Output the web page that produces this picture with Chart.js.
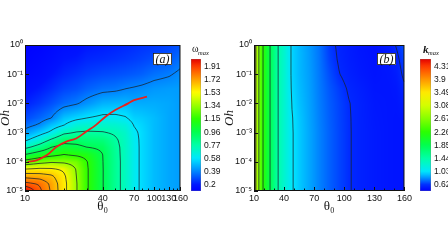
<!DOCTYPE html>
<html lang="en">
<head>
<meta charset="UTF-8">
<title>omega_max / k_max maps</title>
<script src="https://cdn.jsdelivr.net/npm/chart.js"></script>
<style>
  * { margin: 0; padding: 0; box-sizing: border-box; }
  body { background: #fff; width: 448px; height: 252px; overflow: hidden; position: relative; }
  canvas { position: absolute; }
</style>
</head>
<body>
<canvas id="mapA" width="190" height="225" style="left:0px;top:0px"></canvas>
<canvas id="barA" width="40" height="160" style="left:186px;top:40px"></canvas>
<canvas id="mapB" width="190" height="225" style="left:224px;top:0px"></canvas>
<canvas id="barB" width="32" height="160" style="left:416px;top:40px"></canvas>
<script>
// ---------- (a) omega_max on theta0 (log) x Oh (log) ----------
const thetaA = [10, 13, 16, 20, 25, 30, 40, 50, 60, 70, 80, 100, 130, 160];
const ohA = [1e-5, 1.78e-5, 3.16e-5, 5.62e-5, 1e-4, 1.78e-4, 3.16e-4, 5.62e-4,
             1e-3, 1.78e-3, 3.16e-3, 1e-2, 3.16e-2, 1e-1, 3.16e-1, 1];
// one row per Oh value (bottom to top), one column per theta0
const omegaA = [
  [2.55, 2.15, 1.88, 1.58, 1.35, 1.17, 0.965, 0.82, 0.72, 0.62, 0.56, 0.5, 0.46, 0.44],
  [2.16, 2.07, 1.86, 1.58, 1.35, 1.17, 0.965, 0.82, 0.72, 0.62, 0.56, 0.5, 0.46, 0.44],
  [1.85, 1.82, 1.76, 1.56, 1.34, 1.17, 0.965, 0.82, 0.72, 0.62, 0.56, 0.5, 0.46, 0.44],
  [1.53, 1.56, 1.55, 1.5, 1.33, 1.17, 0.965, 0.82, 0.72, 0.62, 0.56, 0.5, 0.46, 0.44],
  [1.21, 1.28, 1.32, 1.31, 1.28, 1.16, 0.963, 0.82, 0.72, 0.62, 0.56, 0.5, 0.46, 0.44],
  [0.96, 1.05, 1.1, 1.15, 1.12, 1.1, 0.96, 0.815, 0.72, 0.62, 0.56, 0.5, 0.46, 0.44],
  [0.73, 0.84, 0.96, 1.02, 1.0, 0.96, 0.93, 0.81, 0.72, 0.62, 0.56, 0.5, 0.46, 0.44],
  [0.555, 0.67, 0.79, 0.9, 0.9, 0.88, 0.87, 0.79, 0.715, 0.615, 0.56, 0.5, 0.46, 0.44],
  [0.43, 0.53, 0.61, 0.74, 0.78, 0.79, 0.78, 0.75, 0.7, 0.6, 0.56, 0.5, 0.46, 0.44],
  [0.35, 0.41, 0.51, 0.58, 0.67, 0.69, 0.7, 0.69, 0.66, 0.575, 0.55, 0.5, 0.46, 0.44],
  [0.29, 0.34, 0.39, 0.51, 0.55, 0.58, 0.61, 0.61, 0.59, 0.54, 0.53, 0.5, 0.46, 0.44],
  [0.22, 0.26, 0.3, 0.35, 0.38, 0.42, 0.48, 0.49, 0.49, 0.47, 0.47, 0.47, 0.46, 0.44],
  [0.18, 0.21, 0.24, 0.28, 0.3, 0.33, 0.36, 0.37, 0.39, 0.4, 0.41, 0.43, 0.44, 0.44],
  [0.15, 0.17, 0.2, 0.23, 0.25, 0.27, 0.29, 0.3, 0.31, 0.32, 0.33, 0.36, 0.38, 0.41],
  [0.13, 0.15, 0.17, 0.2, 0.21, 0.23, 0.24, 0.25, 0.26, 0.27, 0.28, 0.3, 0.32, 0.36],
  [0.12, 0.13, 0.15, 0.17, 0.18, 0.2, 0.21, 0.22, 0.23, 0.24, 0.25, 0.26, 0.28, 0.31]
];
const levelsA = [0.39, 0.58, 0.77, 0.96, 1.15, 1.34, 1.53, 1.72, 1.91, 2.10, 2.29, 2.48];
const cbTicksA = [0.2, 0.39, 0.58, 0.77, 0.96, 1.15, 1.34, 1.53, 1.72, 1.91];
const cbRangeA = [0.1145, 2.0145];
// red curve
const redTheta = [10.5, 12.4, 14.8, 17.6, 20.9, 24.9, 29.7, 35.3, 42, 50, 63, 70, 88];
const redOh = [1.0e-4, 1.15e-4, 1.7e-4, 3.3e-4, 4.9e-4, 6.3e-4, 1.07e-3, 1.8e-3, 3.5e-3, 5.9e-3, 1.0e-2, 1.3e-2, 1.7e-2];

// ---------- (b) k_max on theta0 (linear) x Oh (log) ----------
const thetaB = [10, 10.5, 11, 12, 13.5, 15, 17, 19, 22, 26, 30, 34, 40, 48, 55, 65, 75, 85, 95, 105, 115, 130, 145, 152, 160];
const ohB = [1e-5, 1e-3, 3.16e-3, 1e-2, 3.16e-2, 1e-1, 3.16e-1, 1];
const kB = [
  [4.5, 3.95, 3.55, 3.05, 2.83, 2.65, 2.45, 2.26, 2.07, 1.85, 1.64, 1.44, 1.27, 1.04, 0.97, 0.89, 0.81, 0.74, 0.68, 0.627, 0.59, 0.55, 0.53, 0.525, 0.52],
  [4.5, 3.95, 3.55, 3.05, 2.83, 2.65, 2.45, 2.26, 2.07, 1.85, 1.64, 1.44, 1.27, 1.04, 0.97, 0.89, 0.81, 0.74, 0.68, 0.627, 0.59, 0.55, 0.53, 0.525, 0.52],
  [4.5, 3.95, 3.55, 3.05, 2.83, 2.65, 2.45, 2.26, 2.07, 1.85, 1.64, 1.44, 1.27, 1.035, 0.965, 0.885, 0.805, 0.735, 0.678, 0.626, 0.589, 0.545, 0.53, 0.525, 0.53],
  [4.5, 3.95, 3.55, 3.05, 2.83, 2.65, 2.45, 2.26, 2.07, 1.85, 1.64, 1.44, 1.27, 1.02, 0.95, 0.88, 0.8, 0.73, 0.675, 0.623, 0.588, 0.54, 0.53, 0.53, 0.56],
  [4.5, 3.95, 3.55, 3.05, 2.83, 2.65, 2.45, 2.26, 2.07, 1.85, 1.64, 1.44, 1.27, 1.0, 0.94, 0.875, 0.795, 0.72, 0.66, 0.605, 0.575, 0.53, 0.53, 0.54, 0.6],
  [4.5, 3.95, 3.55, 3.05, 2.83, 2.65, 2.45, 2.26, 2.07, 1.85, 1.64, 1.44, 1.27, 0.99, 0.93, 0.87, 0.79, 0.7, 0.623, 0.58, 0.55, 0.52, 0.535, 0.56, 0.65],
  [4.5, 3.95, 3.55, 3.05, 2.83, 2.65, 2.45, 2.26, 2.07, 1.85, 1.64, 1.44, 1.27, 0.99, 0.93, 0.865, 0.785, 0.675, 0.605, 0.565, 0.54, 0.515, 0.545, 0.59, 0.68],
  [4.5, 3.95, 3.55, 3.05, 2.83, 2.65, 2.45, 2.26, 2.07, 1.85, 1.64, 1.44, 1.27, 0.99, 0.93, 0.86, 0.78, 0.66, 0.595, 0.56, 0.53, 0.51, 0.56, 0.63, 0.7]
];
const levelsB = [0.62, 1.03, 1.44, 1.85, 2.26, 2.67, 3.08, 3.49, 3.9, 4.31];
const cbTicksB = [0.62, 1.03, 1.44, 1.85, 2.26, 2.67, 3.08, 3.49, 3.9, 4.31];
const cbRangeB = [0.435, 4.535];

// ---------- axes ----------
const ohTicks = [1e-5, 1e-4, 1e-3, 1e-2, 1e-1, 1];
const ohTickLabels = ['10⁻⁵', '10⁻⁴', '10⁻³', '10⁻²', '10⁻¹', '10⁰'];
const thetaTicks = [10, 40, 70, 100, 130, 160];
const thetaMinor = [20, 30, 50, 60, 80, 90, 110, 120, 140, 150];

// colour ramps (value -> rgb)
const barCmapA = [[0.11, [0, 0, 255]], [0.2, [0, 20, 255]], [0.39, [0, 130, 255]], [0.58, [0, 230, 255]],
  [0.77, [0, 255, 170]], [0.96, [0, 255, 80]], [1.15, [40, 255, 0]], [1.34, [150, 255, 0]],
  [1.53, [255, 255, 0]], [1.72, [255, 160, 0]], [1.91, [255, 60, 0]], [2.02, [225, 0, 0]]];
const fieldCmapA = [[0.11, [0, 0, 255]], [0.2, [0, 20, 255]], [0.39, [0, 130, 255]], [0.58, [0, 230, 255]],
  [0.77, [0, 255, 170]], [0.96, [0, 255, 80]], [1.15, [40, 255, 0]], [1.34, [150, 255, 0]],
  [1.53, [255, 245, 0]], [1.72, [255, 200, 0]], [1.91, [255, 150, 0]], [2.1, [255, 105, 0]],
  [2.29, [255, 60, 0]], [2.5, [235, 20, 0]]];
const cmapB = [[0.43, [0, 0, 255]], [0.62, [0, 40, 255]], [0.85, [0, 150, 255]], [1.03, [0, 230, 255]],
  [1.44, [0, 255, 170]], [1.85, [0, 255, 80]], [2.26, [40, 255, 0]], [2.67, [130, 255, 0]],
  [3.08, [210, 255, 0]], [3.49, [255, 235, 0]], [3.9, [255, 150, 0]], [4.31, [255, 60, 0]], [4.54, [225, 0, 0]]];

const SANS = '"Liberation Sans", Arial, sans-serif';
const SERIF = '"Liberation Serif", "Times New Roman", serif';

function colorAt(cmap, v) {
  if (v <= cmap[0][0]) return cmap[0][1];
  for (let i = 1; i < cmap.length; i++) {
    if (v <= cmap[i][0]) {
      const [v0, c0] = cmap[i - 1], [v1, c1] = cmap[i];
      const t = (v - v0) / (v1 - v0);
      return c0.map((c, k) => c + (c1[k] - c) * t);
    }
  }
  return cmap[cmap.length - 1][1];
}

function locate(arr, v) {
  let i = 0;
  while (i < arr.length - 2 && v > arr[i + 1]) i++;
  const t = Math.min(1, Math.max(0, (v - arr[i]) / (arr[i + 1] - arr[i])));
  return [i, t];
}

// filled field + contour lines, sampled through the chart's own scales
function fieldPlugin(xs, ys, grid, levels, cmap, logX) {
  const gx = xs.map(v => logX ? Math.log10(v) : v);
  const gy = ys.map(v => Math.log10(v));
  return {
    id: 'field',
    beforeDatasetsDraw(chart) {
      const { ctx, chartArea: a, scales } = chart;
      const w = Math.round(a.right - a.left), h = Math.round(a.bottom - a.top);
      const cols = [], rows = [];
      for (let i = 0; i <= w; i++) {
        const v = scales.x.getValueForPixel(a.left + i);
        cols.push(locate(gx, logX ? Math.log10(v) : v));
      }
      for (let j = 0; j <= h; j++) {
        rows.push(locate(gy, Math.log10(scales.y.getValueForPixel(a.top + j))));
      }
      const F = [];
      for (let j = 0; j <= h; j++) {
        const [r, ty] = rows[j];
        const lo = grid[r], hi = grid[r + 1];
        const line = new Float32Array(w + 1);
        for (let i = 0; i <= w; i++) {
          const [c, tx] = cols[i];
          const v0 = lo[c] + (lo[c + 1] - lo[c]) * tx;
          const v1 = hi[c] + (hi[c + 1] - hi[c]) * tx;
          line[i] = v0 + (v1 - v0) * ty;
        }
        F.push(line);
      }
      const off = document.createElement('canvas');
      off.width = w; off.height = h;
      const octx = off.getContext('2d');
      const img = octx.createImageData(w, h);
      for (let j = 0; j < h; j++) {
        for (let i = 0; i < w; i++) {
          const v = (F[j][i] + F[j][i + 1] + F[j + 1][i] + F[j + 1][i + 1]) / 4;
          const c = colorAt(cmap, v);
          const p = (j * w + i) * 4;
          img.data[p] = Math.round(c[0]);
          img.data[p + 1] = Math.round(c[1]);
          img.data[p + 2] = Math.round(c[2]);
          img.data[p + 3] = 255;
        }
      }
      octx.putImageData(img, 0, 0);
      ctx.drawImage(off, a.left, a.top, a.right - a.left, a.bottom - a.top);

      // marching squares
      ctx.save();
      ctx.beginPath();
      ctx.rect(a.left, a.top, a.right - a.left, a.bottom - a.top);
      ctx.clip();
      ctx.strokeStyle = 'rgba(25,35,45,0.85)';
      ctx.lineWidth = 0.9;
      ctx.beginPath();
      for (const L of levels) {
        for (let j = 0; j < h; j++) {
          for (let i = 0; i < w; i++) {
            const v00 = F[j][i], v10 = F[j][i + 1], v01 = F[j + 1][i], v11 = F[j + 1][i + 1];
            const s00 = v00 >= L, s10 = v10 >= L, s01 = v01 >= L, s11 = v11 >= L;
            if (s00 === s10 && s00 === s01 && s00 === s11) continue;
            const pts = [];
            const x0 = a.left + i, y0 = a.top + j;
            if (s00 !== s10) pts.push([x0 + (L - v00) / (v10 - v00), y0]);
            if (s10 !== s11) pts.push([x0 + 1, y0 + (L - v10) / (v11 - v10)]);
            if (s01 !== s11) pts.push([x0 + (L - v01) / (v11 - v01), y0 + 1]);
            if (s00 !== s01) pts.push([x0, y0 + (L - v00) / (v01 - v00)]);
            for (let k = 0; k + 1 < pts.length; k += 2) {
              ctx.moveTo(pts[k][0], pts[k][1]);
              ctx.lineTo(pts[k + 1][0], pts[k + 1][1]);
            }
          }
        }
      }
      ctx.stroke();
      ctx.restore();
    }
  };
}

// box frame, inward ticks and the panel tag
function framePlugin(tag) {
  return {
    id: 'frame',
    afterDatasetsDraw(chart) {
      const { ctx, chartArea: a, scales: { x, y } } = chart;
      ctx.save();
      ctx.strokeStyle = '#111';
      ctx.lineWidth = 1;
      ctx.beginPath();
      thetaTicks.forEach(v => {
        const px = Math.round(x.getPixelForValue(v)) + 0.5;
        ctx.moveTo(px, a.bottom); ctx.lineTo(px, a.bottom - 4);
      });
      thetaMinor.forEach(v => {
        const px = Math.round(x.getPixelForValue(v)) + 0.5;
        ctx.moveTo(px, a.bottom); ctx.lineTo(px, a.bottom - 2.5);
      });
      ohTicks.forEach(v => {
        const py = Math.round(y.getPixelForValue(v)) + 0.5;
        ctx.moveTo(a.left, py); ctx.lineTo(a.left + 4, py);
      });
      ctx.stroke();
      ctx.strokeRect(a.left + 0.5, a.top + 0.5, a.right - a.left - 1, a.bottom - a.top - 1);

      ctx.font = 'italic 12px ' + SERIF;
      const tw = ctx.measureText(tag).width + 5;
      const bx = Math.round(a.right - 8 - tw), by = a.top + 8;
      ctx.fillStyle = '#fff';
      ctx.fillRect(bx, by, tw, 12);
      ctx.lineWidth = 0.8;
      ctx.strokeRect(bx + 0.5, by + 0.5, tw - 1, 11);
      ctx.fillStyle = '#111';
      ctx.textAlign = 'center';
      ctx.textBaseline = 'middle';
      ctx.fillText(tag, bx + tw / 2, by + 6.5);
      ctx.restore();
    }
  };
}

function mapChart(id, cfg) {
  return new Chart(document.getElementById(id), {
    type: 'scatter',
    data: { datasets: cfg.datasets },
    options: {
      responsive: false,
      animation: false,
      events: [],
      layout: { padding: { top: 45, right: cfg.padRight, left: 0, bottom: 0 } },
      plugins: { legend: { display: false }, tooltip: { enabled: false } },
      scales: {
        x: {
          type: cfg.logX ? 'logarithmic' : 'linear',
          min: 10, max: 160,
          afterBuildTicks: s => { s.ticks = thetaTicks.map(v => ({ value: v })); },
          afterFit: s => { s.height = 34; },
          grid: { display: false, drawTicks: false },
          border: { display: false },
          ticks: {
            autoSkip: false, maxRotation: 0, padding: 2, color: '#111',
            font: { family: SANS, size: 9 },
            callback: v => String(v)
          },
          title: {
            display: true, text: 'θ₀', color: '#111',
            padding: { top: 0, bottom: 11 },
            font: { family: SERIF, size: 13, lineHeight: 1.2 }
          }
        },
        y: {
          type: 'logarithmic',
          min: 1e-5, max: 1,
          afterBuildTicks: s => { s.ticks = ohTicks.map(v => ({ value: v })); },
          afterFit: s => { s.width = cfg.yWidth; },
          grid: { display: false, drawTicks: false },
          border: { display: false },
          ticks: {
            autoSkip: false, padding: 2, color: '#111',
            font: { family: SANS, size: 9 },
            callback: (v, i) => ohTickLabels[i]
          },
          title: {
            display: true, text: 'Oh', color: '#111',
            padding: 0,
            font: { family: SERIF, style: 'italic', size: 13, lineHeight: 0.8 }
          }
        }
      }
    },
    plugins: [cfg.field, framePlugin(cfg.tag)]
  });
}

function colorBar(id, cmap, ticks, range, padLeft, axisWidth, drawTitle) {
  const [min, max] = range;
  return new Chart(document.getElementById(id), {
    type: 'bar',
    data: {
      labels: [''],
      datasets: [{
        data: [[min, max]],
        backgroundColor: c => {
          const ch = c.chart, s = ch.scales.y;
          if (!ch.chartArea || !s) return 'rgb(0,0,255)';
          const g = ch.ctx.createLinearGradient(0, s.getPixelForValue(min), 0, s.getPixelForValue(max));
          for (let k = 0; k <= 40; k++) {
            const rgb = colorAt(cmap, min + (max - min) * k / 40).map(Math.round);
            g.addColorStop(k / 40, 'rgb(' + rgb.join(',') + ')');
          }
          return g;
        },
        borderColor: '#777',
        borderWidth: 0.6,
        borderSkipped: false,
        barPercentage: 1,
        categoryPercentage: 1
      }]
    },
    options: {
      responsive: false,
      animation: false,
      events: [],
      layout: { padding: { left: padLeft, top: 19, bottom: 9, right: 0 } },
      plugins: { legend: { display: false }, tooltip: { enabled: false } },
      scales: {
        x: { display: false },
        y: {
          position: 'right', min, max,
          afterBuildTicks: s => { s.ticks = ticks.map(v => ({ value: v })); },
          afterFit: s => { s.width = axisWidth; },
          grid: { display: false, drawTicks: false },
          border: { display: false },
          ticks: {
            autoSkip: false, padding: 3, color: '#111',
            font: { family: SANS, size: 8.5 },
            callback: v => String(+v.toFixed(2))
          }
        }
      }
    },
    plugins: [{ id: 'cbTitle', afterDraw: drawTitle }]
  });
}

mapChart('mapA', {
  logX: true, padRight: 6, yWidth: 25, tag: '(a)',
  field: fieldPlugin(thetaA, ohA, omegaA, levelsA, fieldCmapA, true),
  datasets: [{
    data: redTheta.map((t, i) => ({ x: t, y: redOh[i] })),
    showLine: true,
    borderColor: '#e8221c',
    borderWidth: 1.8,
    pointRadius: 0,
    tension: 0.35,
    fill: false
  }]
});

mapChart('mapB', {
  logX: false, padRight: 3, yWidth: 30, tag: '(b)',
  field: fieldPlugin(thetaB, ohB, kB, levelsB, cmapB, false),
  datasets: []
});

colorBar('barA', barCmapA, cbTicksA, cbRangeA, 5, 25, chart => {
  const { ctx, chartArea: a } = chart;
  ctx.save();
  ctx.fillStyle = '#111';
  ctx.font = '10px ' + SERIF;
  ctx.fillText('ω', a.left + 1, a.top - 7);
  ctx.font = 'italic 6.5px ' + SERIF;
  ctx.fillText('max', a.left + 7, a.top - 4.5);
  ctx.restore();
});

colorBar('barB', cmapB, cbTicksB, cbRangeB, 4, 17, chart => {
  const { ctx, chartArea: a } = chart;
  ctx.save();
  ctx.fillStyle = '#111';
  ctx.font = 'bold italic 11px ' + SERIF;
  ctx.fillText('k', a.left + 3, a.top - 6);
  ctx.font = 'italic 6.5px ' + SERIF;
  ctx.fillText('max', a.left + 8, a.top - 4.5);
  ctx.restore();
});
</script>
</body>
</html>
